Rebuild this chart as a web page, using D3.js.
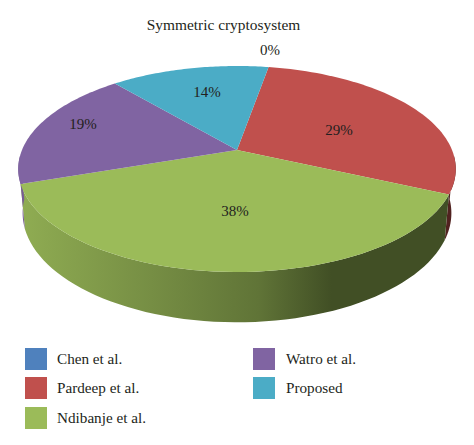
<!DOCTYPE html>
<html>
<head>
<meta charset="utf-8">
<script src="https://cdnjs.cloudflare.com/ajax/libs/d3/7.8.5/d3.min.js"></script>
<style>
html, body { margin: 0; padding: 0; background: #fff; }
svg { display: block; }
text { font-family: "Liberation Serif", serif; fill: #231f20; }
</style>
</head>
<body>
<div id="chart"></div>
<script>
const names = ["Chen et al.", "Pardeep et al.", "Ndibanje et al.", "Watro et al.", "Proposed"];
const values = [0, 29, 38, 19, 14];
const colors = ["#4f81bd", "#c0504d", "#9bbb59", "#8064a2", "#4bacc6"];
const title = "Symmetric cryptosystem";

const width = 474, height = 445;
const svg = d3.select("#chart").append("svg").attr("width", width).attr("height", height);

// the tilted pie: a unit circle seen in perspective, apex at (cx, cy)
const cx = 237, cy = 150, rX = 215, rY = 99.5, persp = 0.1845;
const depth = 43, bottomShrink = 0.98;

const project = (a, r, z) => {
    const x = r * Math.sin(a), y = r * Math.cos(a);
    const den = 1 + persp * y;
    const s = z ? bottomShrink : 1;
    return [cx + s * rX * x / den, cy - s * rY * y / den + (z ? depth / den : 0)];
};

const pie = d3.pie().sort(null).value(d => d)
    .startAngle(10 * Math.PI / 180)
    .endAngle(370 * Math.PI / 180);
const arcs = pie(values);
const line = d3.line();

const sample = (a0, a1, z) => d3.range(0, 61).map(i => project(a0 + (a1 - a0) * i / 60, 1, z));

// side wall shading runs left to right, darkest towards the right
const defs = svg.append("defs");
const sideStops = [
    [0, 0.92], [0.3, 0.76], [0.55, 0.62], [0.72, 0.42], [1, 0.42]
];
arcs.forEach((d, i) => {
    const g = defs.append("linearGradient").attr("id", "side" + i)
        .attr("gradientUnits", "userSpaceOnUse")
        .attr("x1", cx - rX).attr("x2", cx + rX).attr("y1", 0).attr("y2", 0);
    sideStops.forEach(s => {
        const c = d3.color(colors[i]);
        g.append("stop").attr("offset", s[0])
            .attr("stop-color", d3.rgb(c.r * s[1], c.g * s[1], c.b * s[1]).formatHex());
    });
});

// only the front half of the rim shows
const frontStart = Math.PI / 2 + 0.06, frontEnd = 3 * Math.PI / 2 - 0.06;
const wall = svg.append("g");
arcs.forEach((d, i) => {
    const a0 = Math.max(d.startAngle, frontStart), a1 = Math.min(d.endAngle, frontEnd);
    if (a1 <= a0) return;
    const pts = sample(a0, a1, false).concat(sample(a1, a0, true));
    wall.append("path").attr("d", line(pts) + "Z").attr("fill", `url(#side${i})`);
});

// top face
const face = svg.append("g");
arcs.forEach((d, i) => {
    if (d.value === 0) return;
    const pts = [[cx, cy]].concat(sample(d.startAngle, d.endAngle, false));
    face.append("path").attr("d", line(pts) + "Z").attr("fill", colors[i]);
});

svg.append("text").attr("x", 223.5).attr("y", 30).attr("text-anchor", "middle")
    .attr("font-size", 15.4).text(title);

// data labels sit where the source chart put them
const labelPos = [[270, 55], [339, 135], [235, 216], [83, 129], [207, 97]];
values.forEach((v, i) => {
    svg.append("text").attr("x", labelPos[i][0]).attr("y", labelPos[i][1])
        .attr("text-anchor", "middle").attr("font-size", 15).text(v + "%");
});

// legend, filled down then across
const legendX = [25, 253], legendY = [348, 377, 407];
names.forEach((n, i) => {
    const col = i < 3 ? 0 : 1, row = i < 3 ? i : i - 3;
    svg.append("rect").attr("x", legendX[col]).attr("y", legendY[row])
        .attr("width", 22).attr("height", 22).attr("fill", colors[i]);
    svg.append("text").attr("x", legendX[col] + (col ? 33 : 32)).attr("y", legendY[row] + 16)
        .attr("font-size", 15.2).text(n);
});
</script>
</body>
</html>
